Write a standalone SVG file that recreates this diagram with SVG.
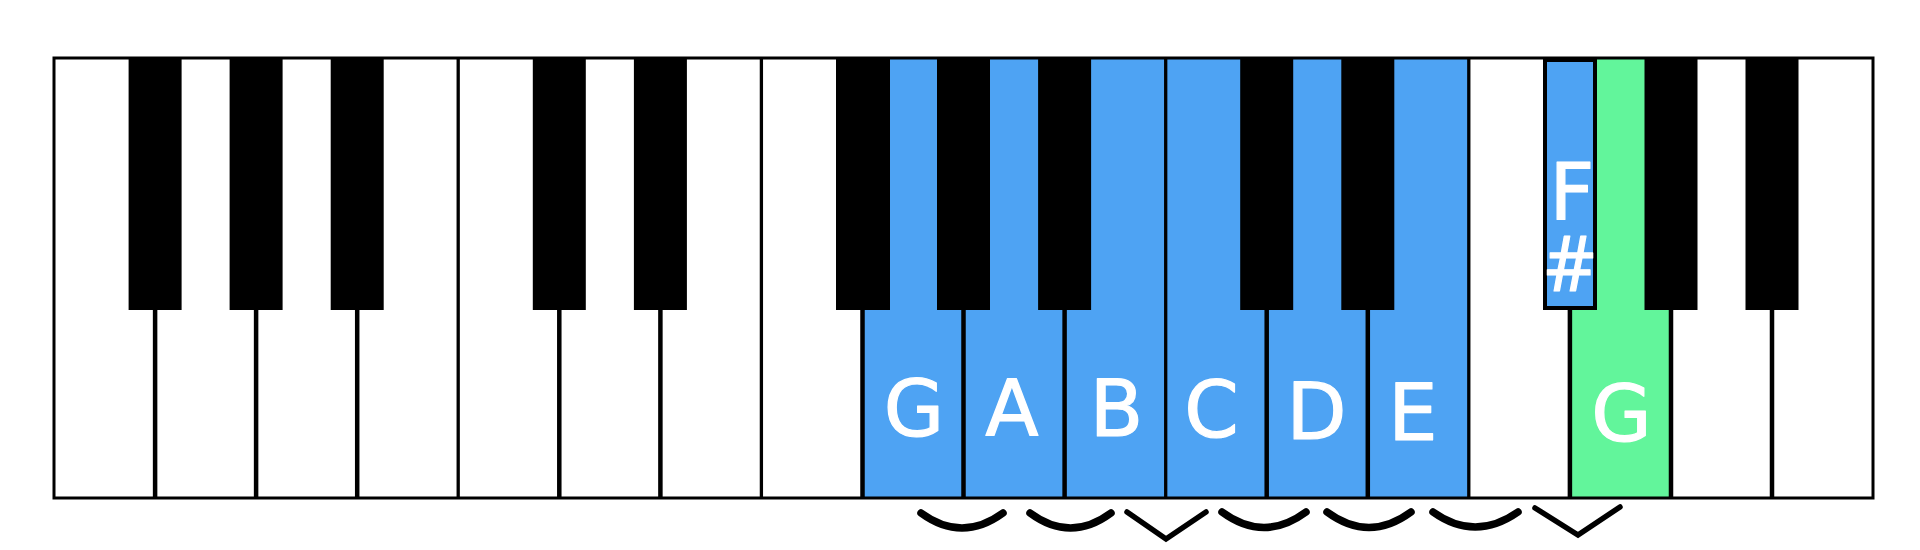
<svg xmlns="http://www.w3.org/2000/svg" width="1920" height="550" viewBox="0 0 1920 550">
  <style>
    .blue{fill:#4ea3f3}
    .green{fill:#62f59b}
    .blk{fill:#000}
    .div{stroke:#000;stroke-width:4.5}
    .full{stroke:#000;stroke-width:3.3}
    .lbl{font-family:"DejaVu Sans","Noto Sans",sans-serif;font-size:78px;fill:#fff;text-anchor:middle;stroke:#fff;stroke-width:1.2;stroke-linejoin:round}
    .sharp{font-family:"Noto Sans","DejaVu Sans",sans-serif;font-size:76px}
    .arc{fill:none;stroke:#000;stroke-width:7.5;stroke-linecap:round}
    .vee{fill:none;stroke:#000;stroke-width:5.5;stroke-linecap:round;stroke-linejoin:miter}
  </style>
  <rect width="1920" height="550" fill="#fff"/>
  <g id="keyboard">
    <rect x="54" y="58" width="1819" height="440" fill="#fff"/>
    <g id="key-G" ><rect class="blue" x="862.5" y="59" width="101" height="438"/></g>
    <g id="key-A" ><rect class="blue" x="963.5" y="59" width="101" height="438"/></g>
    <g id="key-B" ><rect class="blue" x="1064.6" y="59" width="101.1" height="438"/></g>
    <g id="key-C" ><rect class="blue" x="1165.7" y="59" width="101" height="438"/></g>
    <g id="key-D" ><rect class="blue" x="1266.7" y="59" width="101.1" height="438"/></g>
    <g id="key-E" ><rect class="blue" x="1367.8" y="59" width="101" height="438"/></g>
    <g id="key-G2"><rect class="green" x="1569.9" y="59" width="101.1" height="438"/></g>
    <g id="dividers">
      <line class="full" x1="458.2" y1="58" x2="458.2" y2="498"/>
      <line class="full" x1="761.4" y1="58" x2="761.4" y2="498"/>
      <line class="full" x1="1165.7" y1="58" x2="1165.7" y2="498"/>
      <line class="full" x1="1468.8" y1="58" x2="1468.8" y2="498"/>
      <line class="div" x1="155.1" y1="300" x2="155.1" y2="498"/>
      <line class="div" x1="256.1" y1="300" x2="256.1" y2="498"/>
      <line class="div" x1="357.2" y1="300" x2="357.2" y2="498"/>
      <line class="div" x1="559.3" y1="300" x2="559.3" y2="498"/>
      <line class="div" x1="660.4" y1="300" x2="660.4" y2="498"/>
      <line class="div" x1="862.5" y1="300" x2="862.5" y2="498"/>
      <line class="div" x1="963.5" y1="300" x2="963.5" y2="498"/>
      <line class="div" x1="1064.6" y1="300" x2="1064.6" y2="498"/>
      <line class="div" x1="1266.7" y1="300" x2="1266.7" y2="498"/>
      <line class="div" x1="1367.8" y1="300" x2="1367.8" y2="498"/>
      <line class="div" x1="1569.9" y1="300" x2="1569.9" y2="498"/>
      <line class="div" x1="1671" y1="300" x2="1671" y2="498"/>
      <line class="div" x1="1772" y1="300" x2="1772" y2="498"/>
    </g>
    <rect x="54" y="58" width="1819" height="440" fill="none" stroke="#000" stroke-width="3"/>
    <g id="black-keys">
      <rect class="blk" x="128.6" y="58" width="53" height="252"/>
      <rect class="blk" x="229.6" y="58" width="53" height="252"/>
      <rect class="blk" x="330.7" y="58" width="53" height="252"/>
      <rect class="blk" x="532.8" y="58" width="53" height="252"/>
      <rect class="blk" x="633.9" y="58" width="53" height="252"/>
      <rect class="blk" x="836" y="58" width="54" height="252"/>
      <rect class="blk" x="937" y="58" width="53" height="252"/>
      <rect class="blk" x="1038.1" y="58" width="53" height="252"/>
      <rect class="blk" x="1240.2" y="58" width="53" height="252"/>
      <rect class="blk" x="1341.3" y="58" width="53" height="252"/>
      <rect class="blk" x="1644.5" y="58" width="53" height="252"/>
      <rect class="blk" x="1745.5" y="58" width="53" height="252"/>
    </g>
    <g id="key-Fsharp">
      <rect class="blue" x="1545" y="60" width="50" height="248" stroke="#000" stroke-width="4"/>
      <text class="lbl" font-size="76"><tspan x="1572" y="219">F</tspan><tspan class="sharp" x="1570" y="291">#</tspan></text>
    </g>
  </g>
  <g id="labels">
    <text class="lbl" x="914" y="436">G</text>
    <text class="lbl" x="1012" y="436">A</text>
    <text class="lbl" x="1116.5" y="435.5">B</text>
    <text class="lbl" x="1211.5" y="437">C</text>
    <text class="lbl" x="1316.5" y="439">D</text>
    <text class="lbl" x="1413" y="440">E</text>
    <text class="lbl" x="1621.5" y="441">G</text>
  </g>
  <g id="connectors">
    <path class="arc" d="M921 513 Q962 543 1003 513"/>
    <path class="arc" d="M1030 513 Q1070.5 543 1111 513"/>
    <path class="vee" d="M1127 512 L1166 539 L1206 512"/>
    <path class="arc" d="M1222 512 Q1264 543 1306 512"/>
    <path class="arc" d="M1327 512 Q1369 543 1411 512"/>
    <path class="arc" d="M1433 512 Q1475 542 1518 512"/>
    <path class="vee" d="M1535 508 L1578 535 L1620 507"/>
  </g>
</svg>
